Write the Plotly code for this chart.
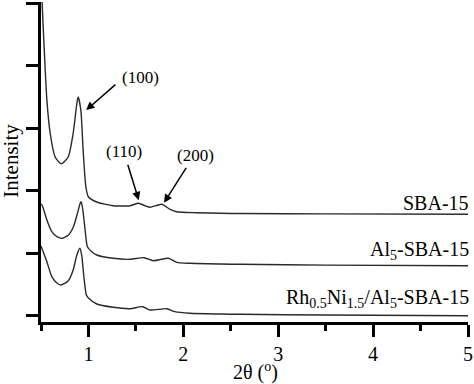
import plotly.graph_objects as go

# ---- data ----
x_sba = [0.500, 0.513, 0.526, 0.562, 0.597, 0.649, 0.713, 0.786, 0.839, 0.878, 0.892, 0.920,
         0.944, 0.973, 1.000, 1.088, 1.26, 1.44, 1.526, 1.597, 1.65, 1.773, 1.86, 1.93,
         2.14, 2.39, 2.6, 3.5, 5.0]
y_sba = [5.45, 4.97, 4.52, 3.45, 2.92, 2.54, 2.43, 2.54, 2.92, 3.40, 3.50, 3.29,
         2.65, 2.06, 1.90, 1.82, 1.76, 1.76, 1.80, 1.76, 1.735, 1.783, 1.703, 1.665,
         1.649, 1.639, 1.635, 1.63, 1.623]

x_al = [0.500, 0.515, 0.562, 0.614, 0.667, 0.726, 0.789, 0.842, 0.884, 0.913, 0.924, 0.941,
        0.965, 0.989, 1.035, 1.088, 1.26, 1.44, 1.586, 1.684, 1.842, 1.93, 2.07, 2.39,
        2.6, 3.5, 5.0]
y_al = [1.79, 1.756, 1.532, 1.345, 1.265, 1.239, 1.292, 1.425, 1.639, 1.799, 1.825, 1.692,
        1.372, 1.105, 1.025, 0.972, 0.919, 0.903, 0.929, 0.881, 0.919, 0.855, 0.839, 0.828,
        0.823, 0.81, 0.801]

x_rh = [0.500, 0.562, 0.614, 0.667, 0.710, 0.786, 0.839, 0.878, 0.910, 0.930, 0.950,
        0.978, 1.000, 1.088, 1.26, 1.44, 1.57, 1.65, 1.825, 1.91, 2.07, 2.39, 2.6, 3.5, 5.0]
y_rh = [1.116, 0.865, 0.625, 0.524, 0.492, 0.556, 0.732, 0.972, 1.079, 0.956, 0.652,
        0.332, 0.284, 0.188, 0.135, 0.113, 0.145, 0.092, 0.113, 0.065, 0.039, 0.028, 0.023,
        0.012, 0.001]

series_names = ["SBA-15", "Al<sub>5</sub>-SBA-15", "Rh<sub>0.5</sub>Ni<sub>1.5</sub>/Al<sub>5</sub>-SBA-15"]
label_y = [1.80, 1.05, 0.27]

peak_labels = ["(100)", "(110)", "(200)"]
peak_text_x = [1.55, 1.375, 2.13]
peak_text_y = [3.82, 2.63, 2.57]
arrow_tail_x = [1.30, 1.41, 2.04]
arrow_tail_y = [3.72, 2.44, 2.39]
arrow_head_x = [0.976, 1.53, 1.797]
arrow_head_y = [3.29, 1.85, 1.81]

x_ticks = [1, 2, 3, 4, 5]
y_ticks = [0, 1, 2, 3, 4, 5]

FONT = "Liberation Serif"
LINE = "#2a2a2a"

fig = go.Figure()
for xs, ys, nm in [(x_sba, y_sba, series_names[0]), (x_al, y_al, series_names[1]), (x_rh, y_rh, series_names[2])]:
    fig.add_trace(go.Scatter(x=xs, y=ys, mode="lines", name=nm,
                             line=dict(color=LINE, width=1.4, shape="spline", smoothing=0.6),
                             showlegend=False, hoverinfo="skip"))

ann = []
for nm, yy in zip(series_names, label_y):
    ann.append(dict(x=5, y=yy, xref="x", yref="y", text=nm, showarrow=False,
                    xanchor="right", yanchor="middle", xshift=3,
                    font=dict(family=FONT, size=20, color="black")))
for t, tx, ty in zip(peak_labels, peak_text_x, peak_text_y):
    ann.append(dict(x=tx, y=ty, xref="x", yref="y", text=t, showarrow=False,
                    xanchor="center", yanchor="middle",
                    font=dict(family=FONT, size=17, color="black")))
for hx, hy, tx, ty in zip(arrow_head_x, arrow_head_y, arrow_tail_x, arrow_tail_y):
    ann.append(dict(x=hx, y=hy, ax=tx, ay=ty, xref="x", yref="y", axref="x", ayref="y",
                    text="", showarrow=True, arrowhead=2, arrowsize=1.1, arrowwidth=1.5,
                    arrowcolor="black"))
# axis titles
ann.append(dict(x=0.502, y=-0.156, xref="paper", yref="paper", text="2θ (<sup>o</sup>)",
                showarrow=False, xanchor="center", yanchor="middle",
                font=dict(family=FONT, size=20, color="black")))
ann.append(dict(x=-0.071, y=0.503, xref="paper", yref="paper", text="Intensity",
                showarrow=False, xanchor="center", yanchor="middle", textangle=-90,
                font=dict(family=FONT, size=21, color="black")))

fig.update_layout(
    width=474, height=384,
    margin=dict(l=41, r=6, t=2, b=62, autoexpand=False),
    paper_bgcolor="white", plot_bgcolor="white",
    font=dict(family=FONT, size=20, color="black"),
    annotations=ann,
    xaxis=dict(range=[0.5, 5], tickvals=x_ticks, ticks="outside", ticklen=12, tickwidth=2.5,
               tickcolor="black", showline=True, linewidth=3, linecolor="black",
               showgrid=False, zeroline=False, automargin=False,
               minor=dict(tickvals=[0.5, 1.5, 2.5, 3.5, 4.5], ticks="outside", ticklen=6,
                          tickwidth=2.5, tickcolor="black", showgrid=False),
               tickfont=dict(family=FONT, size=20, color="black")),
    yaxis=dict(range=[-0.1, 5.02], tickvals=y_ticks, ticks="outside", ticklen=12, tickwidth=2.5,
               tickcolor="black", showticklabels=False, showline=True, linewidth=3,
               linecolor="black", showgrid=False, zeroline=False, automargin=False),
)

fig.write_html("out.html", config={"displayModeBar": False},
               post_script="document.body.style.margin='0';document.body.style.padding='0';")
